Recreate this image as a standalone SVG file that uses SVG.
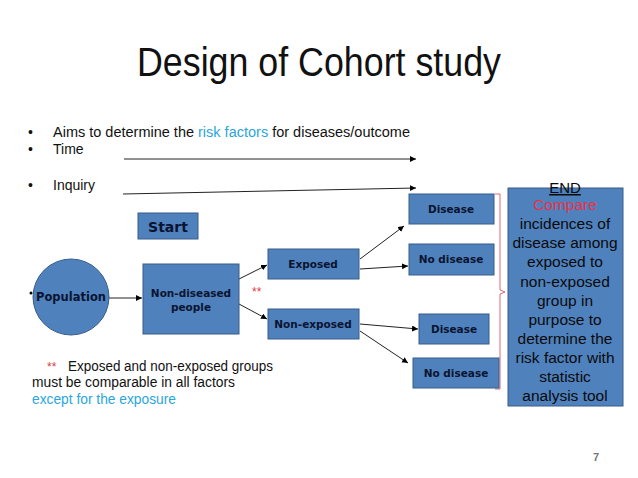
<svg xmlns="http://www.w3.org/2000/svg" width="638" height="478" viewBox="0 0 638 478">
<defs>
<marker id="ah" markerWidth="8" markerHeight="8" refX="6" refY="3" orient="auto" markerUnits="userSpaceOnUse">
<path d="M0,0 L6,3 L0,6 Z" fill="#000"/>
</marker>
<style>
.box{fill:#4f81bd;stroke:#385d8a;stroke-width:1}
.lbl{font-family:"DejaVu Sans",Verdana,sans-serif;font-weight:bold;font-size:10.5px;fill:#0a1430;text-anchor:middle}
.txt{font-family:"Liberation Sans Narrow","Liberation Sans",Arial,sans-serif;font-size:14px;fill:#111}
.end{font-family:"Liberation Sans Narrow","Liberation Sans",Arial,sans-serif;font-size:15.5px;fill:#0a0a0a;text-anchor:middle}
.con{stroke:#222;stroke-width:1;fill:none;marker-end:url(#ah)}
</style>
</defs>
<rect width="638" height="478" fill="#fff"/>
<text x="319" y="76" font-family="'Liberation Sans Narrow','Liberation Sans',Arial,sans-serif" font-size="40" fill="#111" text-anchor="middle" textLength="364" lengthAdjust="spacingAndGlyphs">Design of Cohort study</text>
<g id="bullets" class="txt">
<text x="28" y="137">•</text><text x="53" y="137" textLength="357" lengthAdjust="spacingAndGlyphs">Aims to  determine the <tspan fill="#2ba6dc">risk factors</tspan> for diseases/outcome</text>
<text x="28" y="154">•</text><text x="53" y="154">Time</text>
<text x="28" y="190">•</text><text x="53" y="190">Inquiry</text>
</g>
<g id="connectors">
<line class="con" x1="124" y1="159" x2="416" y2="159"/>
<line class="con" x1="123" y1="194" x2="416" y2="188"/>
<line class="con" x1="108" y1="298" x2="142" y2="298"/>
<line class="con" x1="239" y1="279" x2="267" y2="265"/>
<line class="con" x1="239" y1="304" x2="267" y2="319"/>
<line class="con" x1="360" y1="259" x2="404" y2="226"/>
<line class="con" x1="360" y1="269" x2="408" y2="266"/>
<line class="con" x1="360" y1="324" x2="418" y2="329"/>
<line class="con" x1="360" y1="331" x2="408" y2="363"/>
<path d="M495,194 H500 V290 L505,292 L500,294 V389 H495" fill="none" stroke="#d96a6e" stroke-width="1"/>
</g>
<g id="start"><rect class="box" x="138" y="213" width="60" height="26"/><text x="168" y="232" font-family="'DejaVu Sans',Verdana,sans-serif" font-weight="bold" font-size="14" fill="#0a1430" text-anchor="middle">Start</text></g>
<g id="population"><circle cx="71" cy="297" r="38" fill="#4f81bd" stroke="#385d8a"/><circle cx="31" cy="293" r="1.5" fill="#000"/><text class="lbl" x="71" y="301" style="font-size:11.5px">Population</text></g>
<g id="nondiseased"><rect class="box" x="143" y="264" width="96" height="70"/><text class="lbl" x="191" y="297">Non-diseased</text><text class="lbl" x="191" y="311">people</text></g>
<g id="exposed"><rect class="box" x="268" y="249" width="91" height="30"/><text class="lbl" x="313" y="268">Exposed</text></g>
<g id="nonexposed"><rect class="box" x="268" y="309" width="91" height="30"/><text class="lbl" x="313" y="328">Non-exposed</text></g>
<g id="disease1"><rect class="box" x="409" y="194" width="85" height="30"/><text class="lbl" x="451" y="213">Disease</text></g>
<g id="nodisease1"><rect class="box" x="409" y="244" width="85" height="31"/><text class="lbl" x="451" y="263">No disease</text></g>
<g id="disease2"><rect class="box" x="419" y="314" width="70" height="30"/><text class="lbl" x="454" y="333">Disease</text></g>
<g id="nodisease2"><rect class="box" x="413" y="358" width="86" height="30"/><text class="lbl" x="456" y="377">No disease</text></g>
<text x="252" y="296" font-family="'Liberation Sans',Arial,sans-serif" font-size="12" fill="#e03a3a">**</text>
<g id="end">
<rect class="box" x="508" y="188" width="115" height="218"/>
<text class="end" x="565" y="193" style="font-size:15px" text-decoration="underline">END</text>
<text class="end" x="565" y="210" style="fill:#e8334a">Compare</text>
<text class="end" x="565" y="229">incidences of</text>
<text class="end" x="565" y="248">disease among</text>
<text class="end" x="565" y="267">exposed to</text>
<text class="end" x="565" y="287">non-exposed</text>
<text class="end" x="565" y="306">group in</text>
<text class="end" x="565" y="325">purpose to</text>
<text class="end" x="565" y="344">determine the</text>
<text class="end" x="565" y="363">risk factor with</text>
<text class="end" x="565" y="382">statistic</text>
<text class="end" x="565" y="401">analysis tool</text>
</g>
<g id="note" class="txt">
<text x="47" y="371"><tspan fill="#e03a3a" font-size="12">**</tspan></text>
<text x="68" y="371" textLength="205" lengthAdjust="spacingAndGlyphs">Exposed and non-exposed groups</text>
<text x="32" y="387" textLength="203" lengthAdjust="spacingAndGlyphs">must be comparable in all factors</text>
<text x="32" y="404" fill="#2ba6dc" textLength="144" lengthAdjust="spacingAndGlyphs">except for the exposure</text>
</g>
<text x="596" y="461" font-family="'Liberation Sans',Arial,sans-serif" font-size="11" font-weight="bold" fill="#777" text-anchor="middle">7</text>
</svg>
